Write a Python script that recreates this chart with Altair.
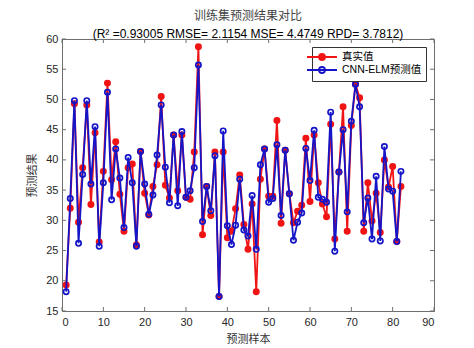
import altair as alt
import pandas as pd

# ---- data ----
sample = list(range(1, 83))
true_vals = [19.3, 32.0, 49.3, 29.7, 38.7, 49.1, 32.6, 44.5, 26.4, 38.1,
             52.7, 36.7, 43.0, 34.3, 28.2, 38.7, 39.3, 25.9, 41.4, 34.5,
             30.9, 35.6, 39.2, 50.5, 35.8, 33.7, 44.1, 34.9, 44.1, 33.8,
             33.5, 41.3, 58.7, 27.6, 35.6, 30.8, 41.3, 17.4, 41.3, 27.1,
             28.2, 31.9, 37.5, 29.3, 25.2, 32.7, 18.2, 36.8, 41.8, 34.0,
             34.0, 46.5, 29.5, 41.6, 34.4, 29.6, 31.5, 32.5, 43.6, 33.1,
             44.1, 36.2, 32.7, 30.6, 45.9, 26.9, 38.0, 48.8, 28.2, 45.7,
             52.5, 50.3, 28.2, 36.2, 29.9, 34.5, 28.0, 40.0, 35.5, 38.9,
             26.5, 35.6]
pred_vals = [18.2, 33.6, 49.8, 26.2, 37.6, 49.8, 36.0, 45.5, 25.7, 36.2,
             51.2, 33.4, 41.8, 37.0, 28.8, 40.4, 36.2, 25.7, 41.4, 36.0,
             31.0, 34.2, 40.8, 49.1, 38.8, 32.9, 44.1, 32.4, 44.7, 33.8,
             34.9, 38.7, 55.7, 29.8, 35.6, 31.6, 40.7, 17.4, 44.8, 29.1,
             26.0, 29.2, 36.8, 28.4, 27.4, 34.1, 25.2, 39.2, 41.8, 33.0,
             33.6, 42.5, 30.8, 41.6, 34.4, 26.7, 29.7, 31.2, 41.9, 36.6,
             44.9, 33.8, 33.5, 33.0, 47.9, 24.9, 38.0, 45.0, 31.4, 46.4,
             52.5, 48.8, 29.6, 33.7, 26.9, 37.3, 26.6, 42.2, 35.2, 34.8,
             26.5, 38.1]
series_names = ["真实值", "CNN-ELM预测值"]
x_ticks = list(range(0, 91, 10))
y_ticks = list(range(15, 61, 5))

title_text = "训练集预测结果对比"
subtitle_text = "(R² =0.93005 RMSE= 2.1154 MSE= 4.4749 RPD= 3.7812)"
x_title = "预测样本"
y_title = "预测结果"

# ---- styling ----
RED = "#f01414"
BLUE = "#1414c8"
AXIS_GRAY = "#6e6e6e"
W, H = 372, 272
LATIN = "Liberation Sans"
CJK = "Noto Sans CJK SC"

df = pd.DataFrame({
    "sample": sample * 2,
    "value": true_vals + pred_vals,
    "series": [series_names[0]] * len(sample) + [series_names[1]] * len(sample),
})

xscale = alt.Scale(domain=[0, 90], nice=False, zero=False)
yscale = alt.Scale(domain=[15, 60], nice=False, zero=False)
stroke_scale = alt.Scale(domain=series_names, range=[RED, BLUE])
fill_scale = alt.Scale(domain=series_names, range=[RED, "transparent"])

x_axis = alt.Axis(title=x_title, values=x_ticks, format="d", labelOverlap=False)
y_axis = alt.Axis(title=y_title, values=y_ticks, format="d", labelOverlap=False,
                  tickCount=len(y_ticks))

SYMBOL = "M-3,0H3M-0.6,0A0.6,0.6,0,1,0,0.6,0A0.6,0.6,0,1,0,-0.6,0"
legend = alt.Legend(
    title=None, orient="none", legendX=250, legendY=8,
    symbolType=SYMBOL, symbolSize=100, symbolStrokeWidth=1.8,
    labelFont=f"{LATIN}, {CJK}", labelFontSize=10.5, labelColor="#000000",
    labelOffset=14, rowPadding=-2, padding=4,
    strokeColor="#333333", fillColor="white",
)

x_enc = alt.X("sample:Q", scale=xscale, axis=x_axis)
y_enc = alt.Y("value:Q", scale=yscale, axis=y_axis)
stroke_enc = alt.Stroke("series:N", scale=stroke_scale, legend=legend)
fill_enc = alt.Fill("series:N", scale=fill_scale, legend=legend)

base = alt.Chart(df)
layers = []
for name in series_names:
    sub = base.transform_filter(alt.datum.series == name)
    layers.append(sub.mark_line(strokeWidth=1.8).encode(x=x_enc, y=y_enc, stroke=stroke_enc))
    layers.append(sub.mark_point(size=28, strokeWidth=1.7, opacity=1).encode(
        x=x_enc, y=y_enc, stroke=stroke_enc, fill=fill_enc))

# inward tick marks on all four sides
xt = alt.Chart(pd.DataFrame({"t": x_ticks}))
yt = alt.Chart(pd.DataFrame({"t": y_ticks}))
tick_style = dict(color=AXIS_GRAY, strokeWidth=1)
xt_enc = alt.X("t:Q", scale=xscale, axis=x_axis)
yt_enc = alt.Y("t:Q", scale=yscale, axis=y_axis)
ticks = [
    xt.mark_rule(**tick_style).encode(x=xt_enc, y=alt.value(H), y2=alt.value(H - 4)),
    xt.mark_rule(**tick_style).encode(x=xt_enc, y=alt.value(0), y2=alt.value(4)),
    yt.mark_rule(**tick_style).encode(y=yt_enc, x=alt.value(0), x2=alt.value(4)),
    yt.mark_rule(**tick_style).encode(y=yt_enc, x=alt.value(W - 4), x2=alt.value(W)),
]

chart = alt.layer(*layers, *ticks).properties(
    width=W, height=H,
    padding={"left": 62, "top": 39, "right": 40, "bottom": 37},
    autosize=alt.AutoSizeParams(type="none"),
    title=alt.TitleParams(
        text=title_text, subtitle=subtitle_text, anchor="middle",
        font=CJK, fontSize=12, fontWeight="normal", color="#444444",
        subtitleFont=LATIN, subtitleFontSize=12, subtitleColor="#000000",
        subtitlePadding=6, offset=-8,
    ),
).configure_view(stroke=AXIS_GRAY, strokeWidth=1).configure_axis(
    grid=False, ticks=False, domainColor=AXIS_GRAY, domainWidth=1,
    labelFont=LATIN, labelFontSize=11, labelColor="#262626",
    titleFont=CJK, titleFontSize=11, titleFontWeight="normal", titleColor="#333333",
).configure_axisX(labelPadding=5, titlePadding=6).configure_axisY(
    labelPadding=4, titlePadding=8, labelOverlap=False
)

chart.save("out.html", embed_options={"renderer": "svg", "actions": False})
